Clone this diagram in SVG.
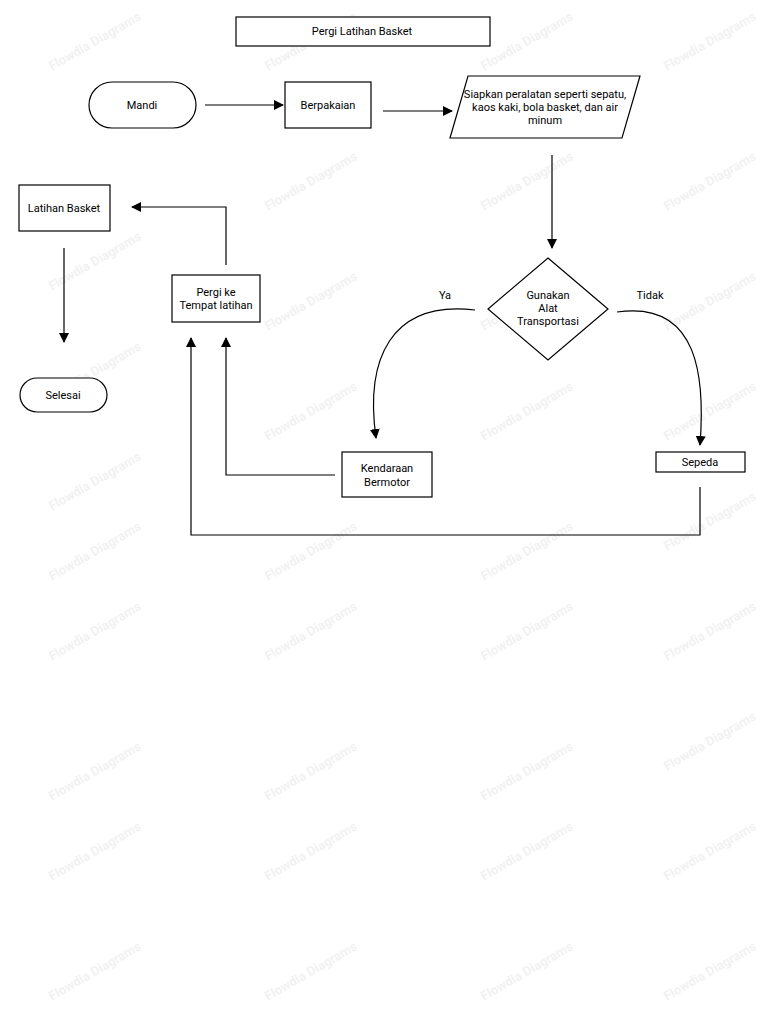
<svg xmlns="http://www.w3.org/2000/svg" width="768" height="1024" viewBox="0 0 768 1024">
<style>
.s{fill:#fff;stroke:#000;stroke-width:1.2}
.t{font-family:Roboto,"Liberation Sans",sans-serif;font-size:11px;text-anchor:middle;fill:#000}
.c{fill:none;stroke:#000;stroke-width:1.2}
.w{font-family:Roboto,"Liberation Sans",sans-serif;font-size:13px;font-weight:bold;fill:#000;opacity:0.05;text-anchor:middle}
</style>
<defs><marker id="a" viewBox="0 0 10 10" refX="9" refY="5" markerWidth="10" markerHeight="10" markerUnits="userSpaceOnUse" orient="auto"><path d="M0,0L10,5L0,10z" fill="#000"/></marker></defs>
<rect width="768" height="1024" fill="#fff"/>
<g id="watermark">
<text class="w" transform="translate(97,45) rotate(-30)">Flowdia Diagrams</text>
<text class="w" transform="translate(313,45) rotate(-30)">Flowdia Diagrams</text>
<text class="w" transform="translate(529,45) rotate(-30)">Flowdia Diagrams</text>
<text class="w" transform="translate(712,45) rotate(-30)">Flowdia Diagrams</text>
<text class="w" transform="translate(97,265) rotate(-30)">Flowdia Diagrams</text>
<text class="w" transform="translate(313,185) rotate(-30)">Flowdia Diagrams</text>
<text class="w" transform="translate(529,185) rotate(-30)">Flowdia Diagrams</text>
<text class="w" transform="translate(712,185) rotate(-30)">Flowdia Diagrams</text>
<text class="w" transform="translate(97,375) rotate(-30)">Flowdia Diagrams</text>
<text class="w" transform="translate(313,305) rotate(-30)">Flowdia Diagrams</text>
<text class="w" transform="translate(529,305) rotate(-30)">Flowdia Diagrams</text>
<text class="w" transform="translate(712,305) rotate(-30)">Flowdia Diagrams</text>
<text class="w" transform="translate(97,485) rotate(-30)">Flowdia Diagrams</text>
<text class="w" transform="translate(313,415) rotate(-30)">Flowdia Diagrams</text>
<text class="w" transform="translate(529,415) rotate(-30)">Flowdia Diagrams</text>
<text class="w" transform="translate(712,415) rotate(-30)">Flowdia Diagrams</text>
<text class="w" transform="translate(97,555) rotate(-30)">Flowdia Diagrams</text>
<text class="w" transform="translate(313,555) rotate(-30)">Flowdia Diagrams</text>
<text class="w" transform="translate(529,555) rotate(-30)">Flowdia Diagrams</text>
<text class="w" transform="translate(712,525) rotate(-30)">Flowdia Diagrams</text>
<text class="w" transform="translate(97,635) rotate(-30)">Flowdia Diagrams</text>
<text class="w" transform="translate(313,635) rotate(-30)">Flowdia Diagrams</text>
<text class="w" transform="translate(529,635) rotate(-30)">Flowdia Diagrams</text>
<text class="w" transform="translate(712,635) rotate(-30)">Flowdia Diagrams</text>
<text class="w" transform="translate(97,775) rotate(-30)">Flowdia Diagrams</text>
<text class="w" transform="translate(313,775) rotate(-30)">Flowdia Diagrams</text>
<text class="w" transform="translate(529,775) rotate(-30)">Flowdia Diagrams</text>
<text class="w" transform="translate(712,745) rotate(-30)">Flowdia Diagrams</text>
<text class="w" transform="translate(97,855) rotate(-30)">Flowdia Diagrams</text>
<text class="w" transform="translate(313,855) rotate(-30)">Flowdia Diagrams</text>
<text class="w" transform="translate(529,855) rotate(-30)">Flowdia Diagrams</text>
<text class="w" transform="translate(712,855) rotate(-30)">Flowdia Diagrams</text>
<text class="w" transform="translate(97,975) rotate(-30)">Flowdia Diagrams</text>
<text class="w" transform="translate(313,975) rotate(-30)">Flowdia Diagrams</text>
<text class="w" transform="translate(529,975) rotate(-30)">Flowdia Diagrams</text>
<text class="w" transform="translate(712,975) rotate(-30)">Flowdia Diagrams</text>
</g>
<g id="connectors">
<path class="c" d="M205,105H283" marker-end="url(#a)"/>
<path class="c" d="M383,111H452" marker-end="url(#a)"/>
<path class="c" d="M552,155V248" marker-end="url(#a)"/>
<path class="c" d="M475,310C390,300 365,360 376,438" marker-end="url(#a)"/>
<path class="c" d="M617,312C700,300 705,380 700,445" marker-end="url(#a)"/>
<path class="c" d="M700,487V535H191V338" marker-end="url(#a)"/>
<path class="c" d="M335,475H226V338" marker-end="url(#a)"/>
<path class="c" d="M226,265V207H132" marker-end="url(#a)"/>
<path class="c" d="M64,248V342" marker-end="url(#a)"/>
<text class="t" x="445" y="299">Ya</text>
<text class="t" x="650" y="299">Tidak</text>
</g>
<g id="title"><rect class="s" x="236" y="17" width="254" height="29"/><text class="t" x="362" y="35">Pergi Latihan Basket</text></g>
<g id="mandi"><rect class="s" x="89" y="82" width="107" height="46" rx="23"/><text class="t" x="142" y="109">Mandi</text></g>
<g id="berpakaian"><rect class="s" x="285" y="82" width="86" height="46"/><text class="t" x="328" y="109">Berpakaian</text></g>
<g id="siapkan"><polygon class="s" points="468,76 640,76 622,138 450,138"/><text class="t" x="545" y="98">Siapkan peralatan seperti sepatu,</text><text class="t" x="545" y="111">kaos kaki, bola basket, dan air</text><text class="t" x="545" y="124">minum</text></g>
<g id="gunakan"><polygon class="s" points="548,258 608,309 548,360 488,309"/><text class="t" x="548" y="299">Gunakan</text><text class="t" x="548" y="312">Alat</text><text class="t" x="548" y="325">Transportasi</text></g>
<g id="kendaraan"><rect class="s" x="342" y="452" width="90" height="45"/><text class="t" x="387" y="472">Kendaraan</text><text class="t" x="387" y="486">Bermotor</text></g>
<g id="sepeda"><rect class="s" x="656" y="452" width="89" height="20"/><text class="t" x="700" y="466">Sepeda</text></g>
<g id="pergi"><rect class="s" x="172" y="275" width="88" height="47"/><text class="t" x="216" y="296">Pergi ke</text><text class="t" x="216" y="309">Tempat latihan</text></g>
<g id="latihan"><rect class="s" x="19" y="185" width="91" height="46"/><text class="t" x="64" y="212">Latihan Basket</text></g>
<g id="selesai"><rect class="s" x="20" y="378" width="87" height="34" rx="17"/><text class="t" x="63" y="399">Selesai</text></g>
</svg>
